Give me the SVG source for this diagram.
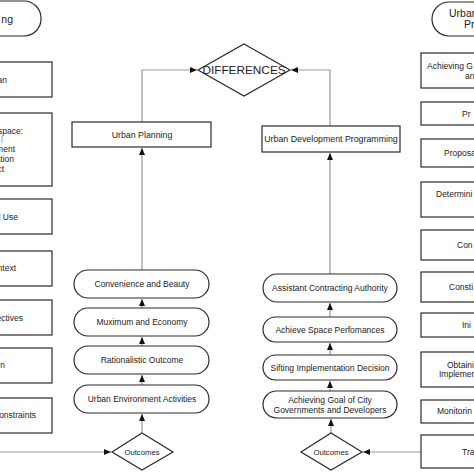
<svg xmlns="http://www.w3.org/2000/svg" width="474" height="474" viewBox="0 0 474 474">
<style>
.box{fill:#fff;stroke:#2a2a2a;stroke-width:1.2}
.conn{fill:none;stroke:#999;stroke-width:1.2}
text{font-family:"Liberation Sans",Arial,sans-serif;font-size:8.5px;fill:#222}
.c{text-anchor:middle}
.e{text-anchor:end}
.hd{font-size:10.5px}
</style>
<defs>
<marker id="ah" markerUnits="userSpaceOnUse" markerWidth="7" markerHeight="6" refX="7" refY="3" orient="auto">
<path d="M0,0 L7,3 L0,6 z" fill="#111"/>
</marker>
</defs>
<rect width="474" height="474" fill="#fff"/>

<g id="connectors">
<path class="conn" d="M142,122 V70 H197" marker-end="url(#ah)"/>
<path class="conn" d="M330,126 V70 H291" marker-end="url(#ah)"/>
<path class="conn" d="M142,270 V148" marker-end="url(#ah)"/>
<path class="conn" d="M142,308 V299" marker-end="url(#ah)"/>
<path class="conn" d="M142,346 V337" marker-end="url(#ah)"/>
<path class="conn" d="M142,385 V375" marker-end="url(#ah)"/>
<path class="conn" d="M142,433 V414" marker-end="url(#ah)"/>
<path class="conn" d="M330,274 V153" marker-end="url(#ah)"/>
<path class="conn" d="M330,317 V303" marker-end="url(#ah)"/>
<path class="conn" d="M330,355 V343" marker-end="url(#ah)"/>
<path class="conn" d="M330,391 V381" marker-end="url(#ah)"/>
<path class="conn" d="M331,433 V419" marker-end="url(#ah)"/>
<path class="conn" d="M0,452 H111" marker-end="url(#ah)"/>
<path class="conn" d="M421,452 H363" marker-end="url(#ah)"/>
</g>

<g id="differences">
<polygon class="box" points="244,44 290,70 244,96 198,70"/>
<text class="c" x="244" y="74" style="font-size:11.8px">DIFFERENCES</text>
</g>

<g id="urban-planning">
<rect class="box" x="72" y="122" width="139" height="25"/>
<text class="c" x="142" y="138" style="font-size:8.8px">Urban Planning</text>
</g>
<g id="urban-development-programming">
<rect class="box" x="262" y="126" width="138" height="26"/>
<text class="c" x="331" y="142" style="font-size:8.8px">Urban Development Programming</text>
</g>

<g id="convenience">
<rect class="box" x="74" y="270" width="135" height="28" rx="14"/>
<text class="c" x="142" y="287">Convenience and Beauty</text>
</g>
<g id="muximum">
<rect class="box" x="74" y="308" width="135" height="28" rx="14"/>
<text class="c" x="142" y="325">Muximum and Economy</text>
</g>
<g id="rationalistic">
<rect class="box" x="74" y="346" width="135" height="28" rx="14"/>
<text class="c" x="142" y="363">Rationalistic Outcome</text>
</g>
<g id="urban-environment">
<rect class="box" x="74" y="385" width="135" height="28" rx="14"/>
<text class="c" x="142" y="402">Urban Environment Activities</text>
</g>
<g id="outcomes-left">
<polygon class="box" points="142,433 173,452 142,470 112,452"/>
<text class="c" x="142" y="454.5" style="font-size:7.7px">Outcomes</text>
</g>

<g id="assistant">
<rect class="box" x="263" y="274" width="134" height="28" rx="14"/>
<text class="c" x="330" y="291">Assistant Contracting Authority</text>
</g>
<g id="achieve-space">
<rect class="box" x="263" y="317" width="134" height="25" rx="12.5"/>
<text class="c" x="330" y="332.5">Achieve Space Perfomances</text>
</g>
<g id="sifting">
<rect class="box" x="263" y="355" width="134" height="25" rx="12.5"/>
<text class="c" x="330" y="370.5">Sifting Implementation Decision</text>
</g>
<g id="achieving-goal">
<rect class="box" x="263" y="391" width="134" height="27" rx="13.5"/>
<text class="c" x="330" y="403">Achieving Goal of City</text>
<text class="c" x="330" y="412.5">Governments and Developers</text>
</g>
<g id="outcomes-right">
<polygon class="box" points="331,433 362,452 331,470 301,452"/>
<text class="c" x="331" y="454.5" style="font-size:7.7px">Outcomes</text>
</g>

<g id="left-column">
<rect class="box" x="-100" y="1" width="141" height="35" rx="17"/>
<text class="e hd" x="13" y="23">ng</text>
<rect class="box" x="-60" y="62" width="112" height="35"/>
<text class="e" x="7" y="83">an</text>
<rect class="box" x="-60" y="113" width="112" height="73"/>
<text class="e" x="23" y="134">space:</text>
<text class="e" x="3" y="143" style="fill:#888">l</text>
<text class="e" x="15" y="152">ement</text>
<text class="e" x="14" y="162">ation</text>
<text class="e" x="4" y="172">ct</text>
<rect class="box" x="-60" y="199" width="112" height="35"/>
<text class="e" x="18" y="220">d Use</text>
<rect class="box" x="-60" y="251" width="112" height="35"/>
<text class="e" x="16" y="271">ntext</text>
<rect class="box" x="-60" y="300" width="112" height="35"/>
<text class="e" x="23" y="321">ectives</text>
<rect class="box" x="-60" y="348" width="112" height="35"/>
<text class="e" x="5" y="368">n</text>
<rect class="box" x="-60" y="398" width="112" height="35"/>
<text class="e" x="36" y="418">onstraints</text>
</g>

<g id="right-column">
<rect class="box" x="432" y="2" width="141" height="34" rx="17"/>
<text class="hd" x="449" y="17">Urban</text>
<text class="hd" x="464" y="28">Pr</text>
<rect class="box" x="421" y="53" width="100" height="35"/>
<text x="427" y="68.5">Achieving G</text>
<text x="465" y="78.5">an</text>
<rect class="box" x="421" y="102" width="100" height="23"/>
<text x="462" y="116.5">Pr</text>
<rect class="box" x="421" y="139" width="100" height="28"/>
<text x="444" y="156">Proposal</text>
<rect class="box" x="421" y="182" width="100" height="35"/>
<text x="436" y="197">Determini</text>
<rect class="box" x="421" y="230" width="100" height="30"/>
<text x="457" y="248">Con</text>
<rect class="box" x="421" y="272" width="100" height="30"/>
<text x="449" y="290">Consti</text>
<rect class="box" x="421" y="313" width="100" height="24"/>
<text x="462" y="328">Ini</text>
<rect class="box" x="421" y="352" width="100" height="35"/>
<text x="447" y="368">Obtaini</text>
<text x="439" y="377">Implemen</text>
<rect class="box" x="421" y="400" width="100" height="23"/>
<text x="437" y="414">Monitorin</text>
<rect class="box" x="421" y="435" width="100" height="33"/>
<text x="462" y="455">Tra</text>
</g>
</svg>
